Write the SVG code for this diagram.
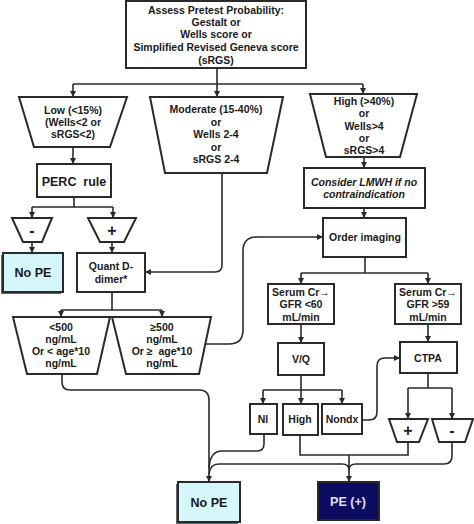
<svg xmlns="http://www.w3.org/2000/svg" width="474" height="524" viewBox="0 0 474 524">
<defs>
<marker id="ah" markerUnits="userSpaceOnUse" markerWidth="7" markerHeight="7" refX="6" refY="3" orient="auto">
<path d="M0,0 L6,3 L0,6 z" fill="#2a2a2a"/>
</marker>
<style>
.b{fill:#fff;stroke:#2a2a2a;stroke-width:2}
.t{font-family:"Liberation Sans",Arial,sans-serif;font-weight:bold;font-size:10.5px;fill:#1a1a1a;text-anchor:middle}
.c{fill:none;stroke:#2a2a2a;stroke-width:1.6}
.a{marker-end:url(#ah)}
.big{font-size:12.5px}
.sym{font-size:16px}
.np{fill:#d5f6fa;stroke:#2a2a2a;stroke-width:2}
.sh{fill:#666}
</style>
</defs>
<rect width="474" height="524" fill="#fff"/>
<g id="connectors">
<path class="c" d="M217,68 V84 M73,84 H363"/>
<path class="c a" d="M73,84 V97"/>
<path class="c a" d="M217,84 V97"/>
<path class="c a" d="M363,84 V94"/>
<path class="c a" d="M73,147 V164"/>
<path class="c a" d="M364,157 V168"/>
<path class="c a" d="M364,208 V218"/>
<path class="c" d="M74,197 V207 M32,207 H113"/>
<path class="c a" d="M32,207 V218"/>
<path class="c a" d="M113,207 V218"/>
<path class="c a" d="M32,242 V253"/>
<path class="c a" d="M112,242 V253"/>
<path class="c a" d="M222,173 V265 Q222,272 215,272 H145"/>
<path class="c" d="M112,292 V310 M61,310 H162"/>
<path class="c a" d="M61,310 V317"/>
<path class="c a" d="M162,310 V317"/>
<path class="c a" d="M205,344 H229 Q243,344 243,330 V251 Q243,237 257,237 H323"/>
<path class="c" d="M365,257 V273 M301,273 H428"/>
<path class="c a" d="M301,273 V284"/>
<path class="c a" d="M428,273 V284"/>
<path class="c a" d="M301,324 V343"/>
<path class="c a" d="M428,324 V342"/>
<path class="c" d="M301,375 V390 M263,390 H342"/>
<path class="c a" d="M263,390 V404"/>
<path class="c a" d="M301,390 V404"/>
<path class="c a" d="M342,390 V404"/>
<path class="c a" d="M362,420 H369 Q377,420 377,412 V366 Q377,358 385,358 H400"/>
<path class="c" d="M428,373 V388 M408,388 H452"/>
<path class="c a" d="M408,388 V419"/>
<path class="c a" d="M452,388 V419"/>
<path class="c a" d="M62,374 V382 Q62,390 70,390 H199 Q209,390 209,400 V482"/>
<path class="c" d="M264,434 V444 Q264,451 257,451 H222 Q210,451 209,468"/>
<path class="c" d="M300,435 V455 H408 V442"/>
<path class="c" d="M452,442 V456 Q452,464 444,464 H356 Q349,464 349,470 Q349,464 342,464 H219 Q210,464 209,474"/>
<path class="c a" d="M349,455 V482"/>
</g>
<g id="pretest">
<rect class="b" x="126" y="1" width="180" height="67"/>
<text class="t" x="216" y="14">Assess Pretest Probability:</text>
<text class="t" x="216" y="26">Gestalt or</text>
<text class="t" x="216" y="38">Wells score or</text>
<text class="t" x="216" y="51">Simplified Revised Geneva score</text>
<text class="t" x="216" y="64">(sRGS)</text>
</g>
<g id="low">
<polygon class="b" points="19,97 127,97 110,147 34,147"/>
<text class="t" x="73" y="114">Low (&lt;15%)</text>
<text class="t" x="73" y="126">(Wells&lt;2 or</text>
<text class="t" x="73" y="138">sRGS&lt;2)</text>
</g>
<g id="moderate">
<polygon class="b" points="150,97 283,97 267,173 165,173"/>
<text class="t" x="216" y="113">Moderate (15-40%)</text>
<text class="t" x="216" y="126">or</text>
<text class="t" x="216" y="138">Wells 2-4</text>
<text class="t" x="216" y="151">or</text>
<text class="t" x="216" y="163">sRGS 2-4</text>
</g>
<g id="high">
<polygon class="b" points="310,94 417,94 400,157 326,157"/>
<text class="t" x="364" y="105">High (&gt;40%)</text>
<text class="t" x="364" y="117">or</text>
<text class="t" x="364" y="130">Wells&gt;4</text>
<text class="t" x="364" y="142">or</text>
<text class="t" x="364" y="154">sRGS&gt;4</text>
</g>
<g id="perc">
<rect class="b" x="37" y="164" width="74" height="33"/>
<text class="t big" x="74" y="185.5" xml:space="preserve">PERC  rule</text>
</g>
<g id="lmwh">
<rect class="b" x="304" y="168" width="121" height="40"/>
<text class="t" x="364" y="186" font-style="italic">Consider LMWH if no</text>
<text class="t" x="364" y="198" font-style="italic">contraindication</text>
</g>
<g id="perc-neg">
<polygon class="b" points="12,218 52,218 42,242 23,242"/>
<text class="t sym" x="32" y="236">-</text>
</g>
<g id="perc-pos">
<polygon class="b" points="88,218 136,218 124,242 100,242"/>
<text class="t sym" x="112" y="236">+</text>
</g>
<g id="nope1">
<rect class="sh" x="1" y="255" width="60" height="39"/>
<rect class="np" x="3" y="253" width="60" height="39"/>
<text class="t big" x="33" y="277">No PE</text>
</g>
<g id="ddimer">
<rect class="b" x="77" y="253" width="68" height="39"/>
<text class="t" x="111" y="270">Quant D-</text>
<text class="t" x="111" y="283">dimer*</text>
</g>
<g id="dd-low">
<polygon class="b" points="13,317 110,317 97,374 27,374"/>
<text class="t" x="61" y="331">&lt;500</text>
<text class="t" x="61" y="343">ng/mL</text>
<text class="t" x="61" y="355">Or &lt; age*10</text>
<text class="t" x="61" y="367">ng/mL</text>
</g>
<g id="dd-high">
<polygon class="b" points="112,317 211,317 199,374 126,374"/>
<text class="t" x="162" y="331">≥500</text>
<text class="t" x="162" y="343">ng/mL</text>
<text class="t" x="162" y="355" xml:space="preserve">Or ≥  age*10</text>
<text class="t" x="162" y="367">ng/mL</text>
</g>
<g id="imaging">
<rect class="b" x="323" y="218" width="83" height="39"/>
<text class="t" x="365" y="241">Order imaging</text>
</g>
<g id="gfr-low">
<rect class="b" x="268" y="284" width="66" height="40"/>
<text class="t" x="301" y="296">Serum Cr→</text>
<text class="t" x="301" y="308">GFR &lt;60</text>
<text class="t" x="301" y="321">mL/min</text>
</g>
<g id="gfr-high">
<rect class="b" x="395" y="284" width="66" height="40"/>
<text class="t" x="428" y="296">Serum Cr→</text>
<text class="t" x="428" y="308">GFR &gt;59</text>
<text class="t" x="428" y="321">mL/min</text>
</g>
<g id="vq">
<rect class="b" x="278" y="343" width="46" height="32"/>
<text class="t" x="301" y="363">V/Q</text>
</g>
<g id="ctpa">
<rect class="b" x="400" y="342" width="57" height="31"/>
<text class="t" x="428" y="362">CTPA</text>
</g>
<g id="nl">
<rect class="b" x="250" y="404" width="27" height="30"/>
<text class="t" x="263" y="423">Nl</text>
</g>
<g id="vq-high">
<rect class="b" x="283" y="404" width="35" height="31"/>
<text class="t" x="300" y="423">High</text>
</g>
<g id="nondx">
<rect class="b" x="322" y="404" width="40" height="30"/>
<text class="t" x="342" y="423">Nondx</text>
</g>
<g id="ctpa-pos">
<polygon class="b" points="389,419 428,419 419,442 397,442"/>
<text class="t sym" x="408" y="436">+</text>
</g>
<g id="ctpa-neg">
<polygon class="b" points="432,419 473,419 465,442 439,442"/>
<text class="t sym" x="452" y="436">-</text>
</g>
<g id="nope2">
<rect class="sh" x="176" y="484" width="62" height="40"/>
<rect class="np" x="178" y="482" width="62" height="40"/>
<text class="t big" x="209" y="507">No PE</text>
</g>
<g id="pe">
<rect x="318" y="482" width="61" height="38" fill="#0b0b60" stroke="#2a2a2a" stroke-width="2"/>
<text class="t big" x="348" y="506" fill="#e0e0ff" style="fill:#e0e0ff">PE (+)</text>
</g>
</svg>
